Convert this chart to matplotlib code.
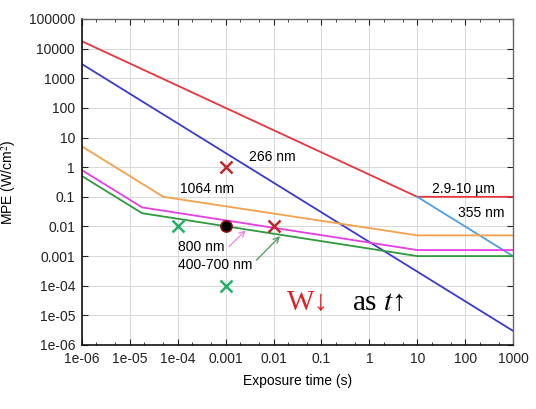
import matplotlib
matplotlib.use('Agg')
import matplotlib.pyplot as plt
from matplotlib.ticker import LogLocator, FixedLocator, NullFormatter

plt.rcParams['font.family'] = ['Liberation Sans', 'DejaVu Sans']
plt.rcParams['mathtext.fontset'] = 'stix'

# exposure time (s) and MPE (W/cm^2) at the line vertices
t_ir = [1e-6, 10, 1000]
w_ir = [17700, 0.1, 0.1]
t_266 = [1e-6, 1000]
w_266 = [3000, 3e-6]
t_355 = [10, 1000]
w_355 = [0.1, 0.001]
t_1064 = [1e-6, 5e-5, 10, 1000]
w_1064 = [5.0, 0.1, 0.005, 0.005]
t_800 = [1e-6, 1.8e-5, 10, 1000]
w_800 = [0.79, 0.044, 0.0016, 0.0016]
t_vis = [1e-6, 1.8e-5, 10, 1000]
w_vis = [0.5, 0.028, 0.001, 0.001]

red_x_t = [0.001, 0.01]
red_x_w = [1, 0.01]
green_x_t = [1e-4, 0.001]
green_x_w = [0.01, 1e-4]
dot_t = [0.001]
dot_w = [0.01]

xticks = [1e-6, 1e-5, 1e-4, 1e-3, 1e-2, 1e-1, 1, 10, 100, 1000]
xlabels = ['1e-06', '1e-05', '1e-04', '0.001', '0.01', '0.1', '1', '10', '100', '1000']
yticks = [1e-6, 1e-5, 1e-4, 1e-3, 1e-2, 1e-1, 1, 10, 100, 1000, 1e4, 1e5]
ylabels = ['1e-06', '1e-05', '1e-04', '0.001', '0.01', '0.1', '1', '10', '100', '1000', '10000', '100000']

fig = plt.figure(figsize=(5.36, 4.09), dpi=100)
ax = fig.add_axes([82 / 536, 1 - 345 / 409, (513 - 82) / 536, (345 - 19) / 409])

lw = 1.3
ax.plot(t_ir, w_ir, color='#e8343c', lw=lw)
ax.plot(t_266, w_266, color='#3a3acc', lw=lw)
ax.plot(t_355, w_355, color='#4f9ee0', lw=lw)
ax.plot(t_1064, w_1064, color='#f4a04c', lw=lw)
ax.plot(t_800, w_800, color='#e23fe6', lw=lw)
ax.plot(t_vis, w_vis, color='#2f9a3c', lw=lw)

ax.plot(red_x_t, red_x_w, 'x', color='#c0282c', ms=8, mew=1.8)
ax.plot(green_x_t, green_x_w, 'x', color='#22b06a', ms=8, mew=1.8)
ax.plot(dot_t, dot_w, 'o', color='black', mec='#8a1010', ms=8, mew=1.2)

ax.set_xscale('log')
ax.set_yscale('log')
ax.set_xlim(1e-6, 1000)
ax.set_ylim(1e-6, 1e5)
ax.set_xticks(xticks)
ax.set_xticklabels(xlabels)
ax.set_yticks(yticks)
ax.set_yticklabels(ylabels)
ax.xaxis.set_minor_locator(LogLocator(base=10, subs=[2, 5], numticks=20))
ax.xaxis.set_minor_formatter(NullFormatter())
ax.yaxis.set_minor_locator(FixedLocator([]))
ax.tick_params(which='both', direction='in', top=True, right=True, labelsize=10, colors='#222222')
ax.tick_params(which='major', length=4, width=0.8)
ax.tick_params(which='minor', length=2.5, width=0.6)
ax.tick_params(axis='both', which='major', pad=5)
ax.grid(True, which='major', color='#d8d8d8', lw=0.7)
for s in ['left', 'bottom']:
    ax.spines[s].set_color('#111111')
    ax.spines[s].set_linewidth(1.2)
for s in ['top', 'right']:
    ax.spines[s].set_color('#666666')
    ax.spines[s].set_linewidth(1.0)

ax.set_xlabel('Exposure time (s)', fontsize=10, labelpad=6)
ax.set_ylabel('MPE (W/cm$^2$)', fontsize=10, labelpad=8)

ax.text(3e-3, 2.2, '266 nm', fontsize=10, va='center')
ax.text(1.1e-4, 0.19, '1064 nm', fontsize=10, va='center')
ax.text(20, 0.19, '2.9-10 \u00b5m', fontsize=10, va='center')
ax.text(70, 0.028, '355 nm', fontsize=10, va='center')
ax.text(1.0e-4, 0.002, '800 nm', fontsize=10, va='center')
ax.text(1.0e-4, 5e-4, '400-700 nm', fontsize=10, va='center')

ax.annotate('', xy=(2.9e-3, 0.0087), xytext=(1.07e-3, 0.0018),
            arrowprops=dict(arrowstyle='->', color='#e890e8', lw=1.0))
ax.annotate('', xy=(1.5e-2, 0.0055), xytext=(4e-3, 6.2e-4),
            arrowprops=dict(arrowstyle='->', color='#50a060', lw=1.0))

ax.text(0.019, 2.6e-5, 'W\u2193', fontsize=21, color='#e02020',
        family=['Liberation Serif', 'DejaVu Serif'], va='center')
ax.text(0.44, 2.6e-5, 'as $t$\u2191', fontsize=21, color='black',
        family=['Liberation Serif', 'DejaVu Serif'], va='center')

fig.savefig('out.png', dpi=100)
